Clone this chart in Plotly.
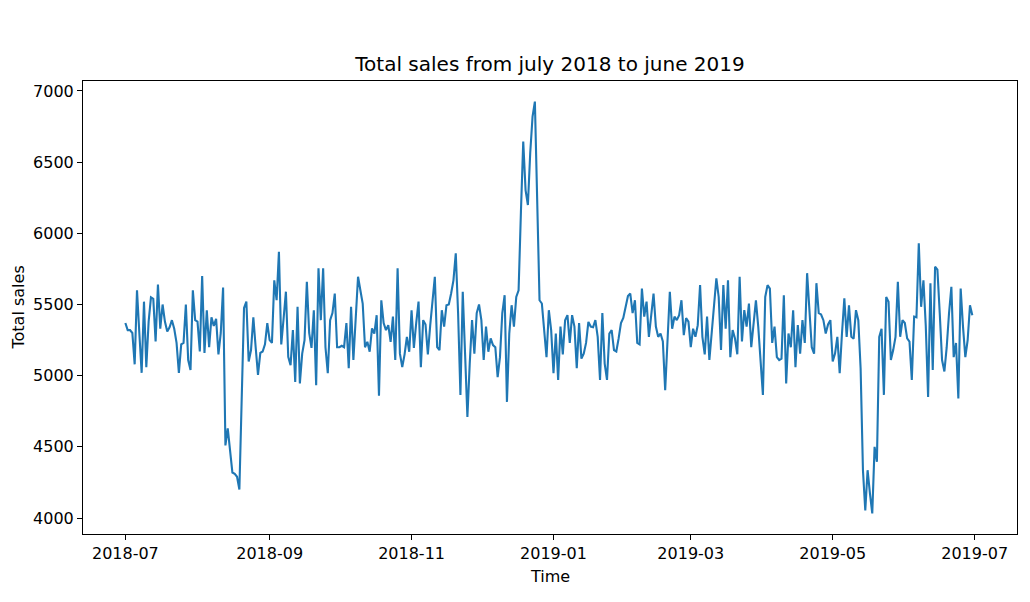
import pandas as pd
import plotly.graph_objects as go

# Daily total sales, one list per month (2018-12-25 has no record)
jul_2018 = [5370, 5320, 5320, 5300, 5080, 5600, 5300, 5020, 5520, 5060, 5380, 5550, 5540, 5240, 5640, 5330,
            5500, 5380, 5310, 5340, 5390, 5330, 5230, 5020, 5220, 5230, 5500, 5110, 5040, 5600, 5390]
aug_2018 = [5380, 5170, 5700, 5160, 5460, 5200, 5410, 5350, 5400, 5150, 5300, 5620, 4510, 4630, 4480, 4320,
            4310, 4290, 4200, 4850, 5475, 5520, 5100, 5180, 5410, 5200, 5006, 5160, 5170, 5220, 5370]
sep_2018 = [5250, 5230, 5670, 5530, 5870, 5220, 5400, 5590, 5132, 5074, 5320, 4956, 5484, 4945, 5155, 5250,
            5660, 5300, 5195, 5460, 4933, 5755, 5390, 5755, 5200, 5017, 5390, 5440, 5577, 5200]
oct_2018 = [5200, 5210, 5200, 5370, 5053, 5484, 5110, 5400, 5695, 5600, 5507, 5200, 5238, 5168, 5332, 5296,
            5425, 4860, 5530, 5370, 5320, 5355, 5238, 5415, 5110, 5755, 5155, 5060, 5150, 5273, 5168]
nov_2018 = [5460, 5195, 5370, 5520, 5060, 5390, 5360, 5150, 5350, 5530, 5695, 5200, 5180, 5460, 5345, 5495,
            5500, 5577, 5670, 5860, 5440, 4865, 5590, 5155, 4710, 5085, 5390, 5155, 5440, 5500]
dec_2018 = [5390, 5110, 5345, 5168, 5262, 5215, 5200, 4990, 5130, 5440, 5565, 4816, 5296, 5495, 5345, 5553,
            5600, 6150, 6644, 6304, 6199, 6564, 6820, 6925, 5530, 5507, 5320, 5130, 5460, 5320]
jan_2019 = [5017, 5296, 4970, 5345, 5150, 5390, 5425, 5230, 5425, 5345, 5053, 5370, 5120, 5155, 5230, 5378,
            5345, 5340, 5390, 5273, 4970, 5440, 5085, 4970, 5296, 5320, 5180, 5170, 5262, 5370, 5405]
feb_2019 = [5484, 5560, 5577, 5440, 5530, 5230, 5220, 5612, 5415, 5520, 5273, 5440, 5577, 5345, 5273, 5296,
            5240, 4898, 5296, 5590, 5330, 5415, 5390, 5425, 5530, 5285, 5405, 5380]
mar_2019 = [5200, 5330, 5273, 5355, 5636, 5273, 5150, 5415, 5110, 5296, 5460, 5683, 5553, 5180, 5636, 5330,
            5670, 5130, 5320, 5262, 5150, 5695, 5240, 5460, 5345, 5507, 5200, 5390, 5530, 5345, 5130]
apr_2019 = [4865, 5553, 5636, 5612, 5230, 5345, 5130, 5110, 5120, 5565, 4945, 5296, 5200, 5460, 5060, 5355,
            5155, 5390, 5230, 5720, 5415, 5200, 5155, 5650, 5440, 5430, 5390, 5296, 5360, 5390]
may_2019 = [5100, 5155, 5273, 5017, 5300, 5543, 5273, 5495, 5273, 5260, 5460, 5390, 5050, 4336, 4054, 4336,
            4174, 4033, 4500, 4395, 5273, 5330, 4865, 5553, 5520, 5110, 5180, 5273, 5660, 5273, 5390]
jun_2019 = [5370, 5262, 5240, 4970, 5415, 5410, 5930, 5484, 5670, 5350, 4851, 5650, 5040, 5765, 5745, 5440,
            5110, 5030, 5200, 5440, 5624, 5130, 5230, 4840, 5612, 5345, 5130, 5250, 5495, 5425]

sales = (jul_2018 + aug_2018 + sep_2018 + oct_2018 + nov_2018 + dec_2018 +
         jan_2019 + feb_2019 + mar_2019 + apr_2019 + may_2019 + jun_2019)

dates = pd.date_range("2018-07-01", "2019-06-30", freq="D")
dates = dates[dates != pd.Timestamp("2018-12-25")]

x_tick_vals = ["2018-07-01", "2018-09-01", "2018-11-01", "2019-01-01", "2019-03-01", "2019-05-01", "2019-07-01"]
x_tick_text = ["2018-07", "2018-09", "2018-11", "2019-01", "2019-03", "2019-05", "2019-07"]
y_tick_vals = [4000, 4500, 5000, 5500, 6000, 6500, 7000]

font_family = "DejaVu Sans"
W, H = 1022, 594  # page body has an 8px margin

fig = go.Figure()
fig.add_trace(go.Scatter(
    x=dates, y=sales, mode="lines",
    line=dict(color="#1f77b4", width=2.1),
    showlegend=False,
))

fig.update_layout(
    width=W, height=H,
    margin=dict(l=75, r=13, t=73, b=68),
    paper_bgcolor="white", plot_bgcolor="white",
    font=dict(family=font_family, size=16, color="black"),
    title=dict(text="Total sales from july 2018 to june 2019", x=0.5, xref="paper", xanchor="center",
               y=1 - (64 - 8) / H, yref="container", yanchor="middle",
               font=dict(family=font_family, size=20, color="black")),
    xaxis=dict(
        type="date",
        range=["2018-06-12 19:00", "2019-07-19 05:00"],
        tickvals=x_tick_vals, ticktext=x_tick_text,
        ticks="outside", ticklen=5, tickwidth=1, tickcolor="black",
        showline=True, linecolor="black", linewidth=1, mirror=True,
        showgrid=False, zeroline=False,
        tickfont=dict(family=font_family, size=16, color="black"),
    ),
    yaxis=dict(
        range=[3888, 7070],
        tickvals=y_tick_vals,
        ticks="outside", ticklen=5, tickwidth=1, tickcolor="black",
        showline=True, linecolor="black", linewidth=1, mirror=True,
        showgrid=False, zeroline=False,
        tickfont=dict(family=font_family, size=16, color="black"),
    ),
    annotations=[
        dict(text="Time", xref="paper", yref="paper", x=0.5, y=0, yshift=-42,
             xanchor="center", yanchor="middle", showarrow=False,
             font=dict(family=font_family, size=16, color="black")),
        dict(text="Total sales", xref="paper", yref="paper", x=0, y=0.5, xshift=-65,
             xanchor="center", yanchor="middle", textangle=-90, showarrow=False,
             font=dict(family=font_family, size=16, color="black")),
    ],
)

fig.write_html("out.html")
